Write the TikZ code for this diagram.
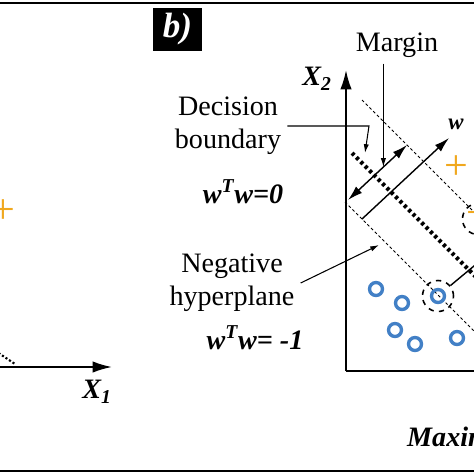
\documentclass[tikz,border=0pt]{standalone}
\usepackage{fontspec}
\setmainfont{Liberation Serif}
\usetikzlibrary{arrows.meta, positioning, calc}
\definecolor{ptorange}{RGB}{240,168,30}
\definecolor{ptblue}{RGB}{66,128,198}

\begin{document}
\begin{tikzpicture}[
        x=0.02cm, y=-0.02cm,
        font=\fontsize{16}{18}\selectfont,
        axisarrow/.style={
            -{Latex[length=11pt,width=6.5pt]},
            line width=1.1pt
        },
        marginarrow/.style={
            {Latex[length=8.5pt,width=5pt]}-{Latex[length=8.5pt,width=5pt]},
            line width=0.8pt
        },
        warrow/.style={
            -{Latex[length=8.5pt,width=5pt]},
            line width=0.8pt
        },
        leader/.style={
            -{Latex[length=5pt,width=3pt]},
            line width=0.6pt
        },
        hyperplane/.style={
            line width=0.6pt,
            dash pattern=on 1.6pt off 1.4pt
        },
        boundaryline/.style={
            line width=2.4pt,
            dash pattern=on 1.8pt off 1.7pt
        },
        bluept/.style={
            circle, draw=ptblue,
            line width=1.9pt,
            inner sep=0pt, minimum size=0.26cm
        },
        svring/.style={
            circle, draw, dashed,
            line width=0.9pt,
            inner sep=0pt, minimum size=0.62cm
        },
        classmark/.style={
            text=ptorange,
            font=\fontsize{24}{24}\selectfont,
            inner sep=0pt
        },
        labeltext/.style={
            align=center,
            font=\fontsize{16}{19}\selectfont
        },
        mathlabel/.style={
            font=\fontsize{16}{18}\selectfont\bfseries\itshape
        }
    ]

    \useasboundingbox (0,0) rectangle (474,474);
    \fill[white] (0,0) rectangle (474,474);
    \clip (0,0) rectangle (474,474);

    % frame lines
    \coordinate (topl) at (0,3);
    \coordinate (topr) at (474,3);
    \coordinate (botl) at (0,471);
    \coordinate (botr) at (474,471);
    \draw[line width=1.3pt] (topl) -- (topr);
    \draw[line width=1.3pt] (botl) -- (botr);

    % left panel (cut off)
    \coordinate (x1start) at (-5,367);
    \coordinate (x1tip) at (112,367);
    \coordinate (ldot1) at (-12,346);
    \coordinate (ldot2) at (15,364);
    \draw[axisarrow] (x1start) -- (x1tip);
    \draw[line width=1.2pt, dash pattern=on 1.2pt off 1.2pt] (ldot1) -- (ldot2);
    \node[mathlabel] (x1label) at (97,392) {X\textsubscript{1}};
    \node[classmark] (lplus) at (3,212) {+};

    % panel tag
    \node[fill=black, text=white, minimum width=0.98cm, minimum height=0.78cm,
        font=\fontsize{20}{20}\selectfont\bfseries\itshape] (panelb) at (177.5,29.5) {b)};

    % axes
    \coordinate (origin) at (346,371);
    \coordinate (x2tip) at (346,70);
    \coordinate (boxend) at (480,371);
    \draw[axisarrow] (origin) -- (x2tip);
    \draw[line width=1.1pt] (origin) -- (boxend);
    \node[mathlabel] (x2label) at (317,79) {X\textsubscript{2}};

    % hyperplanes
    \coordinate (upstart) at (362,100);
    \coordinate (upend) at (500,238);
    \coordinate (dbstart) at (352,153);
    \coordinate (dbend) at (500,301);
    \coordinate (lostart) at (345,202);
    \coordinate (loend) at (500,357);
    \draw[hyperplane] (upstart) -- (upend);
    \draw[boundaryline] (dbstart) -- (dbend);
    \draw[hyperplane] (lostart) -- (loend);

    % margin and normal vector
    \coordinate (mlo) at (348,200);
    \coordinate (mhi) at (407,145);
    \coordinate (wfoot) at (362,219);
    \coordinate (whead) at (449,138);
    \draw[marginarrow] (mlo) -- (mhi);
    \draw[warrow] (wfoot) -- (whead);
    \node[mathlabel, font=\fontsize{13}{13}\selectfont\bfseries\itshape] (wlabel) at (456,124) {w};

    % labels with leaders
    \node (marginlabel) at (397,45) {Margin};
    \coordinate (mtip) at ($(mlo)!0.6!(mhi)$);
    \draw[leader] (marginlabel.south -| mtip) -- (mtip);

    \node[labeltext] (dblabel) at (228,126) {Decision\\boundary};
    \node[mathlabel] (dbeq) at (243,192) {w\textsuperscript{T}w=0};
    \coordinate (dbcorner) at (369,126);
    \coordinate (dbtip) at (365,153);
    \draw[leader] (dblabel.east) -- (dbcorner) -- (dbtip);

    \node[labeltext] (neglabel) at (232,283) {Negative\\hyperplane};
    \node[mathlabel] (negeq) at (255,338) {w\textsuperscript{T}w= -1};
    \coordinate (negtip) at (379,245);
    \draw[leader] (neglabel.east) -- (negtip);

    % positive class
    \node[classmark] (pplus) at (456,168) {+};
    \node[svring] (svpos) at (478,219) {};
    \node[classmark] (pminus) at (478,219) {−};

    % negative class
    \foreach \px/\py [count=\i] in {376/289, 402/303, 395/330, 415/344, 457/338}
        \node[bluept] (neg\i) at (\px,\py) {};
    \node[bluept] (negsv) at (438,296) {};
    \node[svring] (svneg) at (438,296) {};
    \coordinate (svout) at (492,251);
    \draw[line width=0.8pt] (svneg.40) -- (svout);

    % caption (cut off)
    \node[mathlabel, anchor=west] (caption) at (401,440) {Maximum margin};

    \end{tikzpicture}
\end{document}
